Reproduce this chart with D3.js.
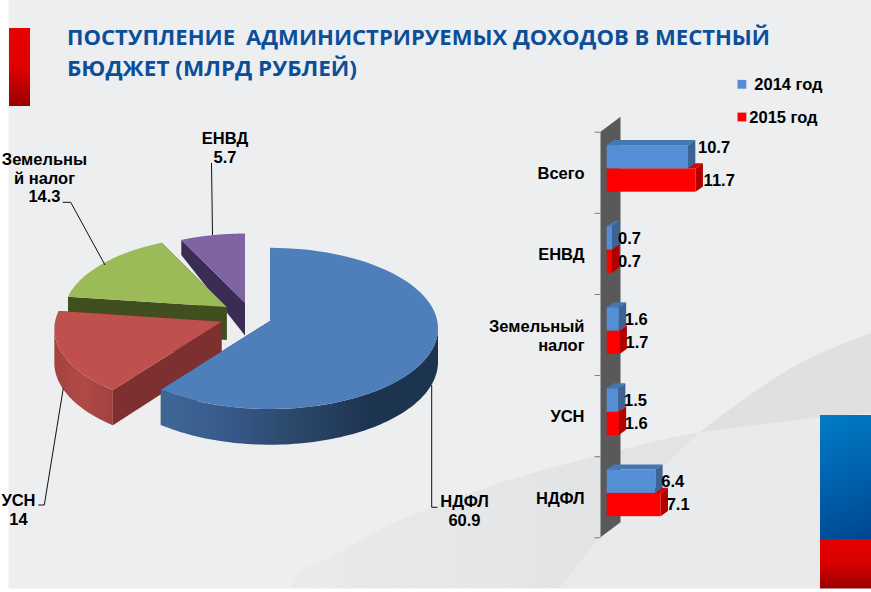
<!DOCTYPE html>
<html>
<head>
<meta charset="utf-8">
<script src="https://cdn.jsdelivr.net/npm/d3@7"></script>
<style>
  html, body { margin: 0; padding: 0; background: #fff; }
  svg { display: block; }
  text { font-family: "Liberation Sans", Arial, sans-serif; font-weight: bold; font-size: 16.5px; fill: #000; }
  .title { font-family: "Open Sans", sans-serif; font-size: 22px; fill: #0b4f9a; white-space: pre; }
</style>
</head>
<body>
<div id="chart"></div>
<script>
// pie values
var pieNames = ["НДФЛ", "УСН", "Земельный налог", "ЕНВД"];
var pieValues = [60.9, 14, 14.3, 5.7];
var pieLabelLines = [["НДФЛ"], ["УСН"], ["Земельны", "й налог"], ["ЕНВД"]];

// bar values, top to bottom
var barCats = ["Всего", "ЕНВД", "Земельный налог", "УСН", "НДФЛ"];
var barCatLines = [["Всего"], ["ЕНВД"], ["Земельный", "налог"], ["УСН"], ["НДФЛ"]];
var values2014 = [10.7, 0.7, 1.6, 1.5, 6.4];
var values2015 = [11.7, 0.7, 1.7, 1.6, 7.1];
var years = ["2014", "2015"];

var titleLines = ["ПОСТУПЛЕНИЕ\u2002АДМИНИСТРИРУЕМЫХ ДОХОДОВ В МЕСТНЫЙ", "БЮДЖЕТ (МЛРД РУБЛЕЙ)"];

var width = 871, height = 592;

var svg = d3.select("#chart").append("svg")
  .attr("width", width)
  .attr("height", height);

var defs = svg.append("defs");

function gradient(id, x1, y1, x2, y2, stops) {
  var g = defs.append("linearGradient")
    .attr("id", id)
    .attr("gradientUnits", "userSpaceOnUse")
    .attr("x1", x1).attr("y1", y1).attr("x2", x2).attr("y2", y2);
  stops.forEach(function (s, i) {
    g.append("stop").attr("offset", i / (stops.length - 1)).attr("stop-color", s);
  });
}

gradient("redBar", 0, 28, 0, 106, ["#e80000", "#e00000", "#980000"]);
gradient("panelBlue", 820, 415, 871, 539, ["#007cc6", "#0062ae", "#00468f"]);
gradient("panelRed", 0, 539, 0, 588, ["#e60000", "#d80000", "#980000"]);
gradient("sideBlue", 162, 0, 438, 0, ["#3f6796", "#37598a", "#2a4668", "#1d3450", "#1d3450"]);
gradient("sideRed", 55, 0, 110, 0, ["#a34240", "#b04a47", "#a24240"]);
gradient("lowerBand", 290, 0, 620, 0, ["#e9eaec", "#e6e7e9", "#e2e3e5"]);

// background
svg.append("rect").attr("x", 8.5).attr("y", 0).attr("width", width).attr("height", 588.5).attr("fill", "#eceef0");

var curve = d3.line().curve(d3.curveCatmullRom);
var edgeA = [[290, 588], [300, 572], [333, 555], [400, 520], [500, 483], [600, 455], [700, 432], [820, 417], [871, 413]];
var edgeB = [[560, 588], [600, 537], [650, 480], [700, 432], [733, 407], [800, 363], [871, 333]];

svg.append("path").attr("fill", "url(#lowerBand)")
  .attr("d", curve(edgeA) + "L871,588Z");
svg.append("path").attr("fill", "#e9eaec")
  .attr("d", curve(edgeB.slice(0, 4)) + "L820,417L871,413L871,588Z");
svg.append("path").attr("fill", "#dfe0e2")
  .attr("d", curve(edgeB.slice(3)) + "L871,413L820,417Z");

// decorations
svg.append("rect").attr("x", 9).attr("y", 28).attr("width", 21).attr("height", 78).attr("fill", "url(#redBar)");
svg.append("rect").attr("x", 820).attr("y", 415).attr("width", 51).attr("height", 124).attr("fill", "url(#panelBlue)");
svg.append("rect").attr("x", 820).attr("y", 539).attr("width", 51).attr("height", 49.5).attr("fill", "url(#panelRed)");

// title
svg.selectAll(".title").data(titleLines).enter().append("text")
  .attr("class", "title")
  .attr("x", 67)
  .attr("y", function (d, i) { return 45 + i * 31; })
  .attr("textLength", function (d, i) { return i === 0 ? 703 : 290; })
  .attr("lengthAdjust", "spacingAndGlyphs")
  .text(function (d) { return d; });

// ---------- 3d pie ----------
var pieColors = [
  { top: "#4e7fbb", cut: "#1e3552", side: "url(#sideBlue)" },
  { top: "#bf504d", cut: "#7d302f", side: "url(#sideRed)" },
  { top: "#9bbb59", cut: "#414f1f", side: "#5f7430" },
  { top: "#8064a2", cut: "#3a2c52", side: "#4f3d66" }
];
// where each exploded slice's apex sits, and how far back slices shrink
var sliceApex = [[270, 321], [221.5, 321.7], [226.7, 307], [245, 302.7]];
var sliceScale = [1, 0.995, 0.97, 0.95];
var rx = 168, ry = 80.6, apexLift = 7.4;

// the camera squeezes the front-left of the rim
var rimWarp = d3.scaleLinear().domain([0, 231, 284, 338.4, 360]).range([0, 220.5, 283, 336.5, 360]);
// extrusion gets deeper towards the viewer
var depth = d3.scaleLinear().domain([240, 303, 420]).range([15, 33, 36]).clamp(true);

var slices = d3.pie().sort(null).value(function (d) { return d; })(pieValues);

function rimPoint(i, angle) {
  var phi = rimWarp(angle * 180 / Math.PI) * Math.PI / 180;
  return [
    sliceApex[i][0] + rx * sliceScale[i] * Math.sin(phi),
    sliceApex[i][1] + apexLift - ry * sliceScale[i] * Math.cos(phi)
  ];
}
function drop(p) { return [p[0], p[1] + depth(p[1])]; }
function poly(points) { return "M" + points.map(function (p) { return p[0] + "," + p[1]; }).join("L") + "Z"; }
function rimPoints(i, a0, a1) {
  return d3.range(0, 81).map(function (k) { return rimPoint(i, a0 + (a1 - a0) * k / 80); });
}

var pieG = svg.append("g");
// back slices first
d3.range(slices.length - 1, -1, -1).forEach(function (i) {
  var s = slices[i], c = pieColors[i], apex = sliceApex[i];
  var g = pieG.append("g");

  [s.startAngle, s.endAngle].forEach(function (a) {
    var p = rimPoint(i, a);
    g.append("path").attr("fill", c.cut)
      .attr("d", poly([apex, p, drop(p), drop(apex)]));
  });

  // outer wall, only the part that faces the viewer
  var a0 = Math.max(s.startAngle, rimWarp.invert(90) * Math.PI / 180);
  var a1 = Math.min(s.endAngle, rimWarp.invert(270) * Math.PI / 180);
  if (a1 > a0) {
    var rim = rimPoints(i, a0, a1);
    g.append("path").attr("fill", c.side)
      .attr("d", poly(rim.concat(rim.map(drop).reverse())));
  }

  g.append("path").attr("fill", c.top)
    .attr("d", poly([apex].concat(rimPoints(i, s.startAngle, s.endAngle))));
});

// leader lines
var leaders = [
  [[431.7, 385], [431.7, 507.3], [437.3, 507.3]],
  [[63.3, 388], [44.3, 505], [38.3, 505]],
  [[62.7, 202.3], [70.7, 202.3], [105, 265]],
  [[211.5, 163], [212.5, 235]]
];
svg.selectAll(".leader").data(leaders).enter().append("path")
  .attr("class", "leader")
  .attr("fill", "none")
  .attr("stroke", "#111")
  .attr("stroke-width", 1)
  .attr("d", d3.line());

var pieLabelPos = [[464.5, 501.7], [18.5, 500.7], [44.5, 159], [225, 138]];
pieNames.forEach(function (name, i) {
  var lines = pieLabelLines[i].concat([String(pieValues[i])]);
  svg.append("text")
    .attr("text-anchor", "middle")
    .selectAll("tspan").data(lines).enter().append("tspan")
    .attr("x", pieLabelPos[i][0])
    .attr("y", function (d, k) { return pieLabelPos[i][1] + k * 18.8; })
    .attr("dy", "0.35em")
    .text(function (d) { return d; });
});

// ---------- 3d bars ----------
var x = d3.scaleLinear().domain([0, 10]).range([606.7, 682.7]);
var y0 = d3.scaleBand().domain(barCats).range([131.7, 537.3]);
var y1 = d3.scaleBand().domain(years).range([13.4, 60]);
var dx = 7.3, dy = -5.2;

// wall behind the bars
svg.append("path").attr("fill", "#595959")
  .attr("d", poly([[600.5, y0.range()[0]], [620.5, y0.range()[0] - 15], [620.5, y0.range()[1] - 15], [600.5, y0.range()[1]]]));

var tickScale = d3.scaleLinear().domain([0, barCats.length]).range(y0.range());
svg.append("g")
  .attr("transform", "translate(600.5,0)")
  .call(d3.axisLeft(tickScale).ticks(barCats.length).tickSize(6).tickFormat(""))
  .call(function (g) { g.select(".domain").remove(); })
  .call(function (g) { g.selectAll("line").attr("stroke", "#7f7f7f"); });

var catAxis = svg.append("g")
  .attr("transform", "translate(584.5,1)")
  .call(d3.axisLeft(y0).tickSize(0).tickPadding(0).tickFormat(""));
catAxis.select(".domain").remove();
catAxis.selectAll(".tick text").each(function (d, i) {
  var lines = barCatLines[i];
  d3.select(this).attr("dy", null).attr("fill", null)
    .style("font-size", "16.5px").style("font-family", "Liberation Sans").style("font-weight", "bold")
    .selectAll("tspan").data(lines).enter().append("tspan")
    .attr("x", 0)
    .attr("y", function (t, k) { return (k - (lines.length - 1) / 2) * 19; })
    .attr("dy", "0.35em")
    .text(function (t) { return t; });
});

var barColors = {
  "2014": { front: "#558ed5", top: "#4577b2", side: "#3b6395" },
  "2015": { front: "#ff0000", top: "#d80000", side: "#b00000" }
};
var seriesByYear = { "2014": values2014, "2015": values2015 };

// 2015 goes first so that the 2014 bar sits on top of it
["2015", "2014"].forEach(function (year) {
  var color = barColors[year];
  var g = svg.append("g").selectAll("g")
    .data(seriesByYear[year].map(function (v, i) { return { value: v, cat: barCats[i] }; }))
    .enter().append("g");
  var h = y1.bandwidth();
  function top(d) { return y0(d.cat) + y1(year); }

  g.append("path").attr("fill", color.top).attr("d", function (d) {
    var l = x(0), r = x(d.value), t = top(d);
    return poly([[l, t], [l + dx, t + dy], [r + dx, t + dy], [r, t]]);
  });
  g.append("path").attr("fill", color.side).attr("d", function (d) {
    var r = x(d.value), t = top(d);
    return poly([[r, t], [r + dx, t + dy], [r + dx, t + dy + h], [r, t + h]]);
  });
  g.append("rect").attr("fill", color.front)
    .attr("x", x(0))
    .attr("y", top)
    .attr("width", function (d) { return x(d.value) - x(0); })
    .attr("height", h);
});

// value labels; the two Всего labels were moved by hand in the original
var labelNudge = { "10.7": [4, -10], "11.7": [2, 0] };
years.forEach(function (year) {
  svg.append("g").selectAll("text")
    .data(seriesByYear[year].map(function (v, i) { return { value: v, cat: barCats[i] }; }))
    .enter().append("text")
    .attr("x", function (d) { return x(d.value) + 6 + (labelNudge[d.value] ? labelNudge[d.value][0] : 0); })
    .attr("y", function (d) {
      return y0(d.cat) + y1(year) + y1.bandwidth() / 2 + (labelNudge[d.value] ? labelNudge[d.value][1] : 0);
    })
    .attr("dy", "0.35em")
    .text(function (d) { return d.value.toFixed(1); });
});

// legend
var legendPos = [[737.5, 84.3, 754.3], [737.5, 117, 749.3]];
years.forEach(function (year, i) {
  svg.append("rect")
    .attr("x", legendPos[i][0])
    .attr("y", legendPos[i][1] - 4.4)
    .attr("width", 8.8)
    .attr("height", 8.8)
    .attr("fill", barColors[year].front);
  svg.append("text")
    .attr("x", legendPos[i][2])
    .attr("y", legendPos[i][1])
    .attr("dy", "0.35em")
    .text(year + " год");
});
</script>
</body>
</html>
